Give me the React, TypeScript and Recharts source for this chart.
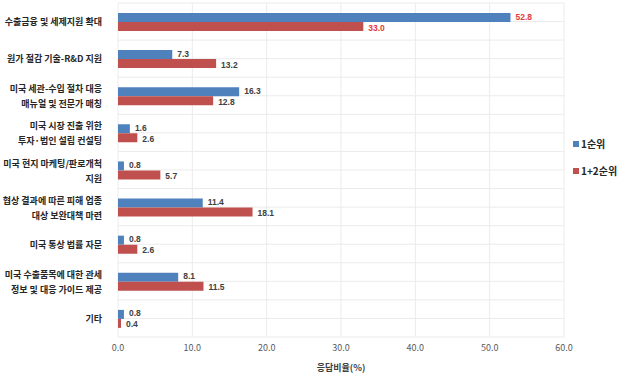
import React from "react";
import { BarChart, Bar, XAxis, YAxis, CartesianGrid, Legend, LabelList } from "recharts";

const categories = [
  "수출금융 및 세제지원 확대",
  "원가 절감 기술-R&D 지원",
  "미국 세관-수입 절차 대응\n매뉴얼 및 전문가 매칭",
  "미국 시장 진출 위한\n투자·법인 설립 컨설팅",
  "미국 현지 마케팅/판로개척\n지원",
  "협상 결과에 따른 피해 업종\n대상 보완대책 마련",
  "미국 통상 법률 자문",
  "미국 수출품목에 대한 관세\n정보 및 대응 가이드 제공",
  "기타",
];
const rank1 = [52.8, 7.3, 16.3, 1.6, 0.8, 11.4, 0.8, 8.1, 0.8];
const rank12 = [33.0, 13.2, 12.8, 2.6, 5.7, 18.1, 2.6, 11.5, 0.4];
const xTicks = [0, 10, 20, 30, 40, 50, 60];
const seriesNames = ["1순위", "1+2순위"];
const colors = ["#4F81BD", "#C0504D"];

const data = categories.map((c, i) => ({ name: c, r1: rank1[i], r12: rank12[i] }));

const FONT = "'Noto Sans CJK KR', 'Noto Sans', sans-serif";
const NUMFONT = "'Liberation Sans', Arial, sans-serif";

const YTick = (props: any) => {
  const { x, y, payload } = props;
  const lines = String(payload.value).split("\n");
  const offsets = lines.length === 1 ? [0] : [-7, 8];
  return (
    <g>
      {lines.map((l, i) => (
        <text
          key={i}
          x={x - 8}
          y={y + offsets[i]}
          textAnchor="end"
          dominantBaseline="central"
          fontFamily={FONT}
          fontSize={9}
          fontWeight={700}
          fill="#262626"
        >
          {l}
        </text>
      ))}
    </g>
  );
};

const makeLabel = (shift: number) => (props: any) => {
  const { x, y, width, height, value, index } = props;
  const red = index === 0;
  return (
    <text
      x={x + width + 5}
      y={y + height / 2 + shift}
      dominantBaseline="central"
      fontFamily={NUMFONT}
      fontSize={8.5}
      fontWeight={700}
      fill={red ? "#E03C3C" : "#404040"}
    >
      {Number(value).toFixed(1)}
    </text>
  );
};

const LegendContent = () => (
  <div style={{ fontFamily: FONT }}>
    {seriesNames.map((n, i) => (
      <div key={n} style={{ display: "flex", alignItems: "center", height: 27, fontSize: 10, fontWeight: 700, color: "#262626" }}>
        <span style={{ display: "inline-block", width: 6, height: 6, background: colors[i], marginRight: 2 }} />
        {n}
      </div>
    ))}
  </div>
);

export default function App() {
  return (
    <div style={{ position: "absolute", left: 0, top: 0, width: 623, height: 373, background: "#fff" }}>
      <BarChart
        width={623}
        height={373}
        data={data}
        layout="vertical"
        margin={{ top: 3, right: 9, bottom: 0, left: 0 }}
        barGap={0}
        barCategoryGap="25%"
      >
        <CartesianGrid
          stroke="#ebebeb"
          horizontalCoordinatesGenerator={({ offset }: any) => {
            const arr: number[] = [];
            const n = categories.length * 2;
            for (let i = 0; i <= n; i++) arr.push(offset.top + (offset.height * i) / n);
            return arr;
          }}
        />
        <XAxis
          type="number"
          domain={[0, 60]}
          ticks={xTicks}
          tickFormatter={(v: number) => v.toFixed(1)}
          axisLine={false}
          tickLine={false}
          height={36}
          tick={{ fontSize: 9, fill: "#595959", fontFamily: FONT }}
          label={{ value: "응답비율(%)", position: "insideBottom", offset: 2, fontSize: 9, fill: "#404040", fontFamily: FONT, fontWeight: 700 }}
        />
        <YAxis
          type="category"
          dataKey="name"
          width={118}
          axisLine={false}
          tickLine={false}
          tick={<YTick />}
          interval={0}
        />
        <Legend
          layout="vertical"
          align="right"
          verticalAlign="middle"
          content={<LegendContent />}
          wrapperStyle={{ width: 50, top: 130, left: 573 }}
        />
        <Bar dataKey="r1" name={seriesNames[0]} fill={colors[0]} barSize={9} isAnimationActive={false}>
          <LabelList dataKey="r1" content={makeLabel(-1)} />
        </Bar>
        <Bar dataKey="r12" name={seriesNames[1]} fill={colors[1]} barSize={9} isAnimationActive={false}>
          <LabelList dataKey="r12" content={makeLabel(1)} />
        </Bar>
      </BarChart>
    </div>
  );
}
